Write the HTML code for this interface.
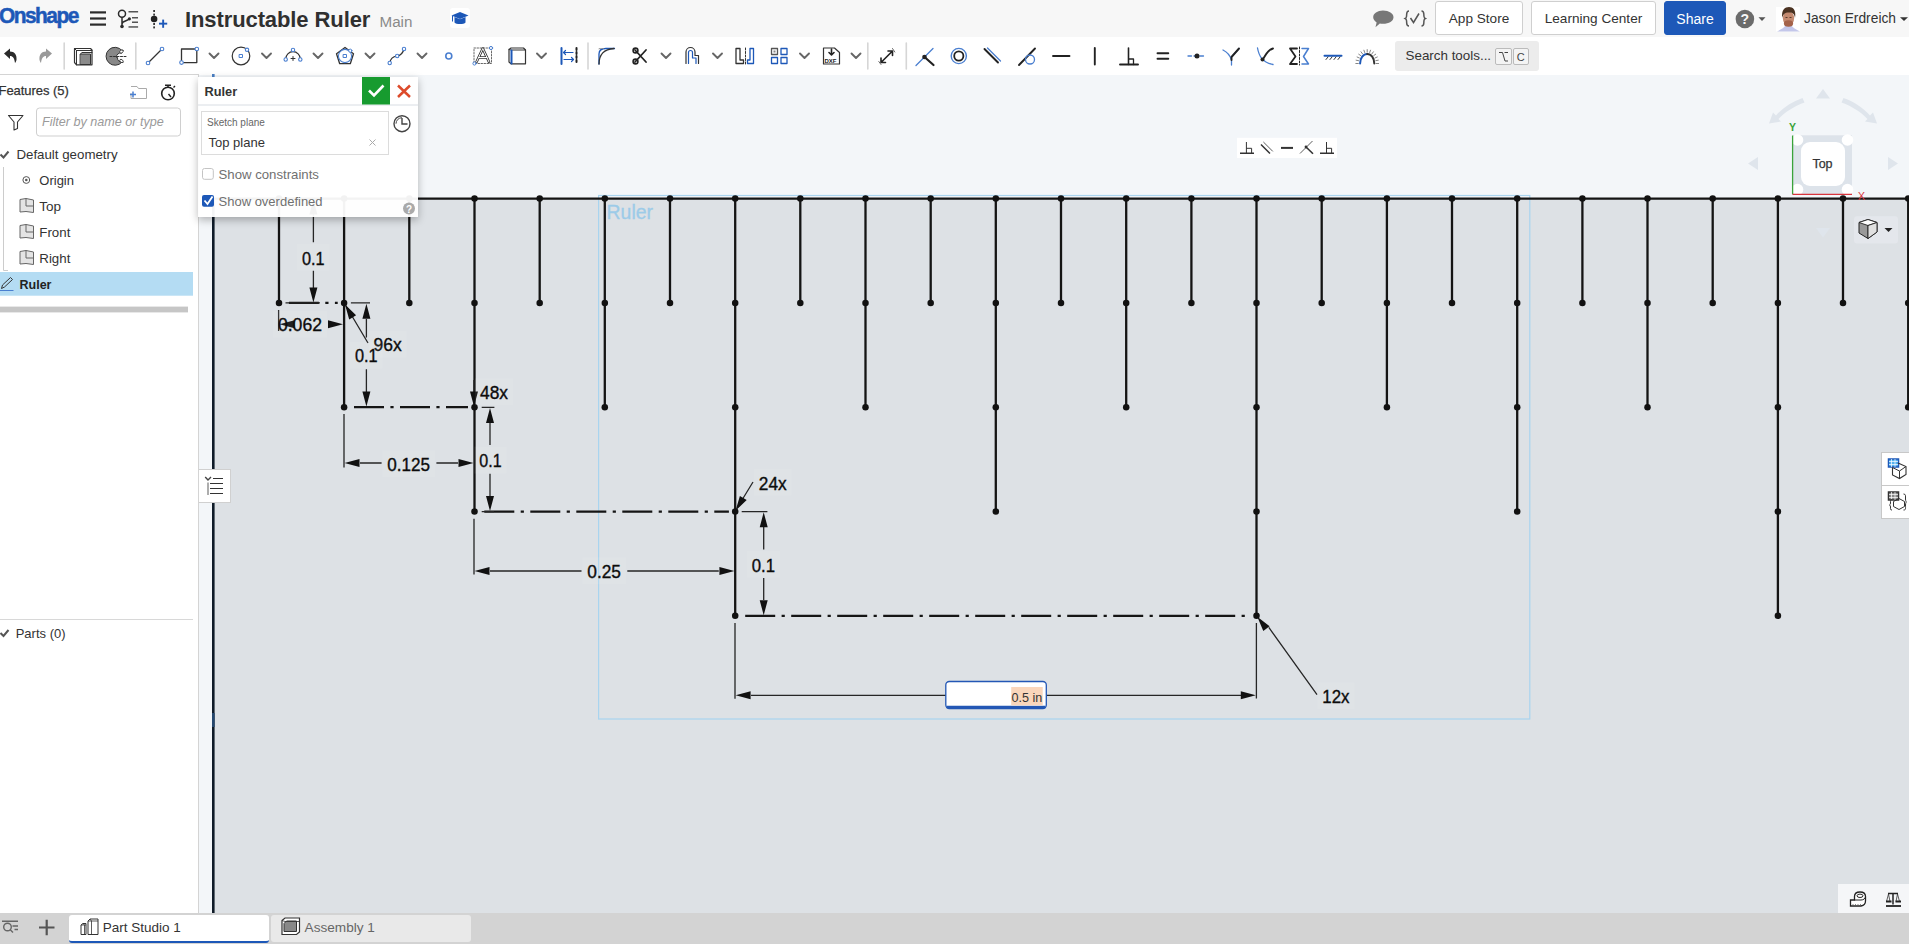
<!DOCTYPE html>
<html><head><meta charset="utf-8">
<style>
*{box-sizing:border-box;margin:0;padding:0}
html,body{width:1909px;height:944px;overflow:hidden;background:#f3f6f9;font-family:"Liberation Sans",sans-serif;color:#333}
.a{position:absolute}
.t{position:absolute;white-space:nowrap;line-height:1}
svg{position:absolute;overflow:visible}
.btn{position:absolute;border:1px solid #cfcfcf;border-radius:3px;background:#fff;font-size:13.6px;color:#333;text-align:center;line-height:34px}
</style></head><body>
<!-- top bar -->
<div class="a" style="left:0;top:0;width:1909px;height:37px;background:#f7f7f7"></div>
<div class="t" style="left:-1px;top:5px;font-size:22px;font-weight:bold;color:#1d58b8;letter-spacing:-1.6px;transform:scaleX(0.95);transform-origin:0 0;-webkit-text-stroke:0.5px #1d58b8">Onshape</div>
<svg style="left:0;top:0" width="480" height="37">
 <g fill="#2b2b2b"><rect x="90" y="11.3" width="16" height="2.2"/><rect x="90" y="17.4" width="16" height="2.2"/><rect x="90" y="23.5" width="16" height="2.2"/></g>
 <g stroke="#2b2b2b" fill="none" stroke-width="1.5"><circle cx="122" cy="13.8" r="3.5"/><path d="M122 17.3V26.5M122 24C122 21 127 21.5 129.4 18.8"/></g>
 <circle cx="122" cy="26.5" r="1.8" fill="#2b2b2b"/><circle cx="129.4" cy="18.8" r="1.6" fill="#2b2b2b"/>
 <g fill="#555"><rect x="128.5" y="11" width="9.6" height="1.5"/><rect x="132" y="17" width="6" height="1.5"/><rect x="132" y="21.5" width="6" height="1.5"/><rect x="128.5" y="26.2" width="9.6" height="1.5"/></g>
 <g fill="#222"><rect x="153.3" y="10" width="1.6" height="2"/><rect x="153.3" y="13.6" width="1.6" height="2"/><circle cx="154.1" cy="19" r="3.3"/><rect x="153.3" y="23" width="1.6" height="2"/><rect x="153.3" y="26.4" width="1.6" height="2"/></g>
 <g fill="#1d58b8"><rect x="159" y="22.7" width="8.2" height="1.9"/><rect x="162.2" y="19.6" width="1.9" height="8.2"/></g>
 <rect x="450" y="8" width="20" height="20" rx="3" fill="#fff"/>
 <path d="M451.5 15.5L460 12L468.5 15.5L460 19Z" fill="#1d58b8"/><path d="M454.5 17V22.5C456 24.5 464 24.5 465.5 22.5V17L460 19.3Z" fill="#1d58b8"/><path d="M452.5 16V21.5" stroke="#1d58b8" stroke-width="1"/>
</svg>
<div class="t" style="left:185px;top:8.5px;font-size:22px;font-weight:bold;color:#303030;letter-spacing:-0.1px">Instructable Ruler</div>
<div class="t" style="left:379.5px;top:13.5px;font-size:15.2px;color:#8a8a8a">Main</div>
<!-- right top -->
<svg style="left:1360px;top:0" width="80" height="37">
 <path d="M1383 10.5C1389 10.5 1393.5 13.5 1393.5 17.2C1393.5 21 1389 23.8 1383 23.8C1381.8 23.8 1380.8 23.7 1379.8 23.4L1375.5 27.3L1376.6 22.4C1374.5 21.1 1373.2 19.2 1373.2 17.2C1373.2 13.5 1377.5 10.5 1383 10.5Z" transform="translate(-1360 0)" fill="#777"/>
 <g transform="translate(-1360 0)" fill="none" stroke="#555" stroke-width="1.5"><path d="M1409 11C1406 11 1407 13 1406.5 16.5C1406.3 18 1405.2 18.5 1405.2 18.5C1405.2 18.5 1406.3 19 1406.5 20.5C1407 24 1406 26 1409 26"/><path d="M1421.5 11C1424.5 11 1423.5 13 1424 16.5C1424.2 18 1425.3 18.5 1425.3 18.5C1425.3 18.5 1424.2 19 1424 20.5C1423.5 24 1424.5 26 1421.5 26"/><path d="M1410.5 18L1413.5 22.5L1419 13.5"/></g>
</svg>
<div class="btn" style="left:1435px;top:1px;width:88px;height:34px">App Store</div>
<div class="btn" style="left:1531px;top:1px;width:125px;height:34px">Learning Center</div>
<div class="btn" style="left:1664px;top:1px;width:62px;height:34px;background:#1d58b8;border-color:#1d58b8;color:#fff;font-size:14px">Share</div>
<svg style="left:1730px;top:0" width="179" height="37">
 <circle cx="14.9" cy="19" r="9.3" fill="#6b6b6b"/>
 <text x="14.9" y="24" font-family="Liberation Sans" font-weight="bold" font-size="14" fill="#f7f7f7" text-anchor="middle">?</text>
 <path d="M28.5 17.3H35.5L32 21Z" fill="#555"/>
 <rect x="46" y="7" width="24" height="24.5" fill="#fff"/>
 <path d="M47 31.5C51 29.5 54.5 27.5 55.5 25.5H61.5C62.5 27.5 66 29.5 70 31.5Z" fill="#c4c7ea"/>
 <ellipse cx="58.5" cy="18.5" rx="5.6" ry="7.3" fill="#c48a70"/>
 <ellipse cx="58.5" cy="23.5" rx="4.6" ry="3.2" fill="#a4624a"/>
 <path d="M52.3 18C51 10 55 7 59 7C63 7 66.5 10 65 18C64.5 14.5 63.5 12.5 59 12.5C54.5 12.5 53 14.5 52.3 18Z" fill="#4b3322"/>
 <path d="M55.5 17.5H57.5M59.5 17.5H61.5" stroke="#5a3a2a" stroke-width="1"/>
 <path d="M170 17.3H178L174 21Z" fill="#333"/>
</svg>
<div class="t" style="left:1804px;top:11.5px;font-size:13.8px;color:#333">Jason Erdreich</div>
<!-- toolbar -->
<div class="a" style="left:0;top:37px;width:1909px;height:38px;background:#fff"></div>
<svg style="left:0;top:0" width="1909" height="75">
<g fill="none" stroke-linecap="round" stroke-linejoin="round">
 <!-- undo/redo -->
 <path d="M4 53.5L10 48.5V51.5C14.5 51.5 17 54.5 16.5 60C16 61.5 15.5 62.5 15 63C14.5 58.5 13 56 10 56V59Z" fill="#2b2b2b" stroke="none"/>
 <path d="M52 53.5L46 48.5V51.5C41.5 51.5 39 54.5 39.5 60C40 61.5 40.5 62.5 41 63C41.5 58.5 43 56 46 56V59Z" fill="#9a9a9a" stroke="none"/>
 <path d="M64.2 43V69M135.8 43V69M588 43V69M867.8 43V69M906.3 43V69" stroke="#d6d6d6" stroke-width="1.6"/>
 <!-- cube -->
 <path d="M74.5 48.5H90.5L92 50V64.8H76.5L74.5 62.5Z" stroke="#333" stroke-width="1.2" fill="#fff"/>
 <path d="M74.5 48.5L76.5 50.5H92M76.5 50.5V64.8" stroke="#333" stroke-width="1"/>
 <path d="M80.5 54H90.5V64.5H80.5Z" fill="#8a8a8a" stroke="#333" stroke-width="1"/>
 <path d="M80.5 54L82 52.5H92" stroke="#333" stroke-width="1"/>
 <!-- C -->
 <path d="M122 50.5A9 9 0 1 0 122 62A4 4 0 0 1 117.5 57.5H116.5A4 4 0 0 1 121.5 53Z" fill="#888" stroke="#333" stroke-width="1"/>
 <ellipse cx="121.5" cy="51.5" rx="2" ry="1.4" fill="#fff" stroke="#333" stroke-width=".8" transform="rotate(-40 121.5 51.5)"/>
 <ellipse cx="121.5" cy="61" rx="2" ry="1.4" fill="#fff" stroke="#333" stroke-width=".8" transform="rotate(40 121.5 61)"/>
 <path d="M110 56.5H126" stroke="#333" stroke-width="1" stroke-dasharray="2 1.5"/>
 <!-- line -->
 <path d="M148.5 62.5L161.5 49.5" stroke="#333" stroke-width="1.3"/>
 <circle cx="148" cy="63" r="1.8" stroke="#4a7fd0" stroke-width="1.1" fill="#fff"/><circle cx="162" cy="49" r="1.8" stroke="#4a7fd0" stroke-width="1.1" fill="#fff"/>
 <!-- rect -->
 <rect x="181.5" y="49" width="15.3" height="13.6" stroke="#333" stroke-width="1.3"/>
 <circle cx="196.8" cy="49" r="1.8" stroke="#4a7fd0" stroke-width="1.1" fill="#fff"/><circle cx="181.5" cy="62.6" r="1.8" stroke="#4a7fd0" stroke-width="1.1" fill="#fff"/>
 <!-- carets -->
 <g stroke="#666" stroke-width="1.9"><path d="M209.5 53.5L214 58L218.5 53.5"/><path d="M262 53.5L266.5 58L271 53.5"/><path d="M313.5 53.5L318 58L322.5 53.5"/><path d="M365.5 53.5L370 58L374.5 53.5"/><path d="M417.5 53.5L422 58L426.5 53.5"/><path d="M537 53.5L541.5 58L546 53.5"/><path d="M661.5 53.5L666 58L670.5 53.5"/><path d="M713 53.5L717.5 58L722 53.5"/><path d="M800 53.5L804.5 58L809 53.5"/><path d="M851.5 53.5L856 58L860.5 53.5"/></g>
 <!-- circle -->
 <circle cx="241" cy="56" r="8.8" stroke="#333" stroke-width="1.2"/>
 <rect x="239.5" y="54.5" width="3" height="3" stroke="#4a7fd0" stroke-width="1"/>
 <circle cx="247" cy="49.8" r="1.7" stroke="#4a7fd0" stroke-width="1.1" fill="#fff"/>
 <!-- arc -->
 <path d="M285.7 59A7.3 7.3 0 0 1 300.3 59" stroke="#333" stroke-width="1.2"/>
 <circle cx="293" cy="50" r="1.7" stroke="#4a7fd0" stroke-width="1.1" fill="#fff"/><circle cx="285.7" cy="59.5" r="1.7" stroke="#4a7fd0" stroke-width="1.1" fill="#fff"/><circle cx="300.3" cy="59.5" r="1.7" stroke="#4a7fd0" stroke-width="1.1" fill="#fff"/>
 <path d="M291 58.5H295M293 56.5V60.5" stroke="#333" stroke-width="1"/>
 <!-- polygon -->
 <path d="M345 47.5L353.5 53.7L350.3 63.7H339.7L336.5 53.7Z" stroke="#333" stroke-width="1.3"/>
 <circle cx="345" cy="56" r="6.6" stroke="#4a7fd0" stroke-width="1.1"/>
 <rect x="343.5" y="54.5" width="3" height="3" stroke="#4a7fd0" stroke-width="1"/>
 <circle cx="350.3" cy="50.7" r="1.6" stroke="#4a7fd0" stroke-width="1" fill="#fff"/>
 <!-- spline -->
 <path d="M389.7 63C390.5 58 393.5 56.5 397 56C401 55.5 403 53 404 49" stroke="#333" stroke-width="1.2"/>
 <circle cx="389.7" cy="63" r="1.7" stroke="#4a7fd0" stroke-width="1.1" fill="#fff"/><circle cx="397.2" cy="56" r="1.7" stroke="#4a7fd0" stroke-width="1.1" fill="#fff"/><circle cx="404" cy="49" r="1.7" stroke="#4a7fd0" stroke-width="1.1" fill="#fff"/>
 <!-- point -->
 <circle cx="448.8" cy="56" r="3" stroke="#4a7fd0" stroke-width="1.6"/>
 <!-- text -->
 <rect x="474" y="48" width="17.5" height="15.5" stroke="#555" stroke-width=".9" stroke-dasharray="1.5 1.5"/>
 <path d="M476.5 62L482.8 48.5L489 62M478.5 57.5H487" stroke="#333" stroke-width="2.6"/>
 <path d="M476.5 62L482.8 48.5L489 62M478.5 57.5H487" stroke="#fff" stroke-width="1"/>
 <circle cx="491" cy="48" r="1.6" stroke="#4a7fd0" stroke-width="1" fill="#fff"/><circle cx="474.5" cy="63.5" r="1.6" stroke="#4a7fd0" stroke-width="1" fill="#fff"/>
 <!-- 3d box -->
 <path d="M509 49.5L511 48H523.5L525.5 50V63.8H511L509 62Z" stroke="#333" stroke-width="1.2"/>
 <path d="M509 49.5L511 50H525.5" stroke="#333" stroke-width="1"/>
 <path d="M511.5 50.5V63.5" stroke="#1d58b8" stroke-width="2"/>
 <!-- dim icon -->
 <path d="M561.5 48V64" stroke="#1d58b8" stroke-width="2"/>
 <path d="M576.5 48V64" stroke="#222" stroke-width="2" stroke-dasharray="2 2"/>
 <path d="M564 52.5H573M565.5 50.5L563.5 52.5L565.5 54.5M564 59.5H573M571.5 57.5L573.5 59.5L571.5 61.5" stroke="#1d58b8" stroke-width="1.2"/>
 <!-- fillet -->
 <path d="M599 64V54C599 50.5 602 48.5 606 48.5H614.5" stroke="#1d58b8" stroke-width="1.3"/>
 <path d="M599 49V48.5H604" stroke="#888" stroke-width=".8" stroke-dasharray="1 1"/>
 <path d="M599 64C599 55 604 49 614 48.5" stroke="#333" stroke-width="1.3"/>
 <!-- scissors -->
 <path d="M635 50L646 62M646 50L635 62" stroke="#222" stroke-width="1.8"/>
 <circle cx="635.5" cy="50.5" r="2.4" stroke="#222" stroke-width="1.6"/><circle cx="635.5" cy="61.5" r="2.4" stroke="#222" stroke-width="1.6"/>
 <!-- offset -->
 <path d="M686 63.5V52A4.5 4.5 0 0 1 695 52V55.5H698.5V63.5" stroke="#333" stroke-width="1.2"/>
 <path d="M688.5 63.5V52.5A2 2 0 0 1 692.5 52.5V58H696V63.5" stroke="#1d58b8" stroke-width="1.2"/>
 <!-- mirror -->
 <path d="M736 48.5H740V60H743.5V63.5H736Z" stroke="#333" stroke-width="1.3"/>
 <path d="M745.5 48V64" stroke="#333" stroke-width="1" stroke-dasharray="2 1.5"/>
 <path d="M753.5 48.5V63.5H747.5V60H750V48.5Z" stroke="#1d58b8" stroke-width="1.3"/>
 <!-- pattern -->
 <rect x="771.5" y="48.5" width="6" height="6" stroke="#555" stroke-width="1.3"/><rect x="773.5" y="50.5" width="2" height="2" fill="#888" stroke="none"/>
 <rect x="781" y="48.5" width="6" height="6" stroke="#1d58b8" stroke-width="1.3"/><rect x="771.5" y="57.5" width="6" height="6" stroke="#1d58b8" stroke-width="1.3"/><rect x="781" y="57.5" width="6" height="6" stroke="#1d58b8" stroke-width="1.3"/>
 <!-- dxf -->
 <path d="M823.5 48H834.5L839.5 52.5V64H823.5Z" stroke="#333" stroke-width="1.2"/>
 <path d="M831.5 49V54.5M829 52.5L831.5 55L834 52.5" stroke="#222" stroke-width="1.6"/>
 <text x="824.5" y="62.8" font-family="Liberation Sans" font-weight="bold" font-size="6" fill="#222" stroke="none">DXF</text>
 <!-- dimension -->
 <path d="M881 62.5L892.5 51M881 58V62.5H885.5M892.5 55.5V51H888" stroke="#222" stroke-width="1.6"/>
 <path d="M878.8 61.5L881 64.5M894.8 52L892.5 48.5" stroke="#444" stroke-width=".8"/>
 <!-- coincident -->
 <path d="M916 65.5L933 48.5" stroke="#4a7fd0" stroke-width="1.3"/>
 <path d="M924.5 57L933.5 65" stroke="#222" stroke-width="2.2"/><circle cx="924.5" cy="57" r="2.3" fill="#222" stroke="none"/>
 <!-- concentric -->
 <circle cx="958.8" cy="56" r="7.6" stroke="#4a7fd0" stroke-width="1.4"/><circle cx="958.8" cy="56" r="4.6" stroke="#222" stroke-width="1.8"/>
 <!-- parallel -->
 <path d="M984.5 49L998 62.5" stroke="#222" stroke-width="1.9"/><path d="M987.5 48L1000.5 61" stroke="#4a7fd0" stroke-width="1.3"/>
 <!-- tangent -->
 <path d="M1019 65L1035 48.5" stroke="#222" stroke-width="1.9"/><circle cx="1030" cy="59.5" r="4.5" stroke="#4a7fd0" stroke-width="1.3"/>
 <!-- horiz vert -->
 <path d="M1053 56H1069.5" stroke="#222" stroke-width="1.9"/>
 <path d="M1094.8 48V64.5" stroke="#222" stroke-width="1.9"/>
 <!-- perpendicular -->
 <path d="M1120 64.5H1138" stroke="#222" stroke-width="1.9"/><path d="M1128.5 48V64.5" stroke="#222" stroke-width="1.6"/><path d="M1129 59H1133.5V64.5" stroke="#222" stroke-width="1.3"/>
 <!-- equal -->
 <path d="M1157.5 53.3H1168.3M1157.5 58.8H1168.3" stroke="#222" stroke-width="1.9"/>
 <!-- midpoint -->
 <path d="M1188 56H1206" stroke="#4a7fd0" stroke-width="1.3" stroke-dasharray="3.5 2.5"/><circle cx="1197" cy="56" r="2.5" fill="#222" stroke="none"/>
 <!-- normal -->
 <path d="M1223 50C1227 52 1230 55 1231.5 60M1231.5 60V65M1231.5 57L1239 48.5" stroke="#4a7fd0" stroke-width="1.3"/>
 <path d="M1231.5 57L1239 48.5M1231.5 57V60" stroke="#222" stroke-width="1.9"/>
 <!-- curvature -->
 <path d="M1257.5 48C1259 56 1262 62 1273 64.5" stroke="#4a7fd0" stroke-width="1.3"/><path d="M1262.5 59.5C1265 57 1267 50 1273 48.5" stroke="#222" stroke-width="1.9"/><circle cx="1262.5" cy="59.5" r="2" fill="#222" stroke="none"/>
 <!-- symmetric -->
 <path d="M1297 48.5H1290L1295.5 56.5L1290 64H1297" stroke="#222" stroke-width="1.8"/>
 <path d="M1299.5 47V65" stroke="#222" stroke-width="1" stroke-dasharray="2 1.5"/>
 <path d="M1302 48.5H1308.5L1303.5 56.5L1308.5 64H1302" stroke="#4a7fd0" stroke-width="1.5"/>
 <!-- fix -->
 <path d="M1324.5 55.8H1341.5" stroke="#1d58b8" stroke-width="2"/>
 <path d="M1326 59.5L1328 57M1330 59.5L1332 57M1334 59.5L1336 57M1338 59.5L1340 57" stroke="#333" stroke-width="1"/>
 <!-- pierce -->
 <path d="M1358.3 63.5L1355.8 63.5 M1358.6 60.7L1356.1 60.2 M1359.4 58.0L1357.1 57.0 M1360.7 55.6L1358.7 54.2 M1362.5 53.8L1361.0 51.8 M1364.7 52.5L1363.9 50.2 M1367.2 52.1L1367.2 49.6 M1369.7 52.5L1370.5 50.2 M1371.9 53.8L1373.4 51.8 M1373.7 55.6L1375.7 54.2 M1375.0 58.0L1377.3 57.0 M1375.8 60.7L1378.3 60.2 M1376.1 63.5L1378.6 63.5" stroke="#777" stroke-width=".9"/>
 <path d="M1360.1 63.5A7.1 9.6 0 0 1 1367.2 53.9" stroke="#1d58b8" stroke-width="2"/>
 <path d="M1367.2 53.9A7.1 9.6 0 0 1 1374.3 63.5" stroke="#333" stroke-width="2"/>
</g>
</svg>
<div class="a" style="left:1395px;top:41px;width:144px;height:30px;background:#ececec;border-radius:3px"></div>
<div class="t" style="left:1405.5px;top:49px;font-size:13.4px;color:#333">Search tools...</div>
<div class="a" style="left:1495px;top:48px;width:16.5px;height:17px;border:1px solid #bbb;border-radius:2px;background:#f4f4f4"></div>
<div class="a" style="left:1512.5px;top:48px;width:16.5px;height:17px;border:1px solid #bbb;border-radius:2px;background:#f4f4f4"></div>
<svg style="left:0;top:0" width="1909" height="75"><path d="M1499 52.5H1502.5L1505 61H1508M1504.5 52.5H1508" stroke="#444" stroke-width="1" fill="none"/>
<text x="1520.8" y="61" font-family="Liberation Sans" font-size="11" fill="#444" text-anchor="middle">C</text></svg>
<svg style="left:0;top:0" width="1909" height="944">
<rect x="199" y="75" width="1710" height="838" fill="#f3f6f9"/>
<rect x="213.8" y="198.6" width="1695.2" height="715.4" fill="#dde1e5"/>
<rect x="598.6" y="195.5" width="931.2" height="523.5" fill="none" stroke="#a9d4ef" stroke-width="1.2"/>
<path d="M288.9 302.9H337.7" stroke="#151515" stroke-width="2.2" stroke-dasharray="30 6.4 3.2 6.4" fill="none"/>
<path d="M354.0 407.2H468.0" stroke="#151515" stroke-width="2.2" stroke-dasharray="30 6.4 3.2 6.4" fill="none"/>
<path d="M484.3 511.6H728.9" stroke="#151515" stroke-width="2.2" stroke-dasharray="30 6.4 3.2 6.4" fill="none"/>
<path d="M745.2 615.8H1250.3" stroke="#151515" stroke-width="2.2" stroke-dasharray="30 6.4 3.2 6.4" fill="none"/>
<path d="M213.8 198.6H1909 M279.0 198.6V302.9 M344.1 198.6V407.2 M409.3 198.6V302.9 M474.5 198.6V511.6 M539.7 198.6V302.9 M604.8 198.6V407.2 M670.0 198.6V302.9 M735.2 198.6V615.8 M800.3 198.6V302.9 M865.5 198.6V407.2 M930.7 198.6V302.9 M995.8 198.6V511.6 M1061.0 198.6V302.9 M1126.2 198.6V407.2 M1191.4 198.6V302.9 M1256.5 198.6V615.8 M1321.7 198.6V302.9 M1386.9 198.6V407.2 M1452.0 198.6V302.9 M1517.2 198.6V511.6 M1582.4 198.6V302.9 M1647.5 198.6V407.2 M1712.7 198.6V302.9 M1777.9 198.6V615.8 M1843.0 198.6V302.9 M1908.2 198.6V407.2" stroke="#141414" stroke-width="2.3" fill="none"/>
<g fill="#111"><circle cx="279.0" cy="198.6" r="3.25"/><circle cx="279.0" cy="302.9" r="3.25"/><circle cx="344.1" cy="198.6" r="3.25"/><circle cx="344.1" cy="302.9" r="3.25"/><circle cx="344.1" cy="407.2" r="3.25"/><circle cx="409.3" cy="198.6" r="3.25"/><circle cx="409.3" cy="302.9" r="3.25"/><circle cx="474.5" cy="198.6" r="3.25"/><circle cx="474.5" cy="302.9" r="3.25"/><circle cx="474.5" cy="407.2" r="3.25"/><circle cx="474.5" cy="511.6" r="3.25"/><circle cx="539.7" cy="198.6" r="3.25"/><circle cx="539.7" cy="302.9" r="3.25"/><circle cx="604.8" cy="198.6" r="3.25"/><circle cx="604.8" cy="302.9" r="3.25"/><circle cx="604.8" cy="407.2" r="3.25"/><circle cx="670.0" cy="198.6" r="3.25"/><circle cx="670.0" cy="302.9" r="3.25"/><circle cx="735.2" cy="198.6" r="3.25"/><circle cx="735.2" cy="302.9" r="3.25"/><circle cx="735.2" cy="407.2" r="3.25"/><circle cx="735.2" cy="511.6" r="3.25"/><circle cx="735.2" cy="615.8" r="3.25"/><circle cx="800.3" cy="198.6" r="3.25"/><circle cx="800.3" cy="302.9" r="3.25"/><circle cx="865.5" cy="198.6" r="3.25"/><circle cx="865.5" cy="302.9" r="3.25"/><circle cx="865.5" cy="407.2" r="3.25"/><circle cx="930.7" cy="198.6" r="3.25"/><circle cx="930.7" cy="302.9" r="3.25"/><circle cx="995.8" cy="198.6" r="3.25"/><circle cx="995.8" cy="302.9" r="3.25"/><circle cx="995.8" cy="407.2" r="3.25"/><circle cx="995.8" cy="511.6" r="3.25"/><circle cx="1061.0" cy="198.6" r="3.25"/><circle cx="1061.0" cy="302.9" r="3.25"/><circle cx="1126.2" cy="198.6" r="3.25"/><circle cx="1126.2" cy="302.9" r="3.25"/><circle cx="1126.2" cy="407.2" r="3.25"/><circle cx="1191.4" cy="198.6" r="3.25"/><circle cx="1191.4" cy="302.9" r="3.25"/><circle cx="1256.5" cy="198.6" r="3.25"/><circle cx="1256.5" cy="302.9" r="3.25"/><circle cx="1256.5" cy="407.2" r="3.25"/><circle cx="1256.5" cy="511.6" r="3.25"/><circle cx="1256.5" cy="615.8" r="3.25"/><circle cx="1321.7" cy="198.6" r="3.25"/><circle cx="1321.7" cy="302.9" r="3.25"/><circle cx="1386.9" cy="198.6" r="3.25"/><circle cx="1386.9" cy="302.9" r="3.25"/><circle cx="1386.9" cy="407.2" r="3.25"/><circle cx="1452.0" cy="198.6" r="3.25"/><circle cx="1452.0" cy="302.9" r="3.25"/><circle cx="1517.2" cy="198.6" r="3.25"/><circle cx="1517.2" cy="302.9" r="3.25"/><circle cx="1517.2" cy="407.2" r="3.25"/><circle cx="1517.2" cy="511.6" r="3.25"/><circle cx="1582.4" cy="198.6" r="3.25"/><circle cx="1582.4" cy="302.9" r="3.25"/><circle cx="1647.5" cy="198.6" r="3.25"/><circle cx="1647.5" cy="302.9" r="3.25"/><circle cx="1647.5" cy="407.2" r="3.25"/><circle cx="1712.7" cy="198.6" r="3.25"/><circle cx="1712.7" cy="302.9" r="3.25"/><circle cx="1777.9" cy="198.6" r="3.25"/><circle cx="1777.9" cy="302.9" r="3.25"/><circle cx="1777.9" cy="407.2" r="3.25"/><circle cx="1777.9" cy="511.6" r="3.25"/><circle cx="1777.9" cy="615.8" r="3.25"/><circle cx="1843.0" cy="198.6" r="3.25"/><circle cx="1843.0" cy="302.9" r="3.25"/><circle cx="1908.2" cy="198.6" r="3.25"/><circle cx="1908.2" cy="302.9" r="3.25"/><circle cx="1908.2" cy="407.2" r="3.25"/></g>
<path d="M213.3 200V913" stroke="#0f1b28" stroke-width="2.6"/>
<rect x="212" y="74" width="2.6" height="3.2" fill="#4a7fc4"/>
<path d="M213.3 713V727" stroke="#24476e" stroke-width="2.6"/>
<svg style="left:0;top:0" width="1909" height="944" font-family="Liberation Sans">
<path d="M313.4 214.0L313.4 242.2 M313.4 270.8L313.4 288.0 M285.5 302.9L320.0 302.9 M278.6 310.0L278.6 331.0 M345.4 305.0L368.0 343.0 M350.9 302.9L370.0 302.9 M366.4 318.9L366.4 337.5 M366.4 369.2L366.4 392.0 M474.0 380.0L474.0 392.0 M344.0 414.0L344.0 467.4 M360.0 463.0L381.6 463.0 M436.4 463.0L458.0 463.0 M481.7 407.3L494.4 407.3 M490.0 423.0L490.0 445.0 M490.0 473.7L490.0 496.0 M481.7 511.6L494.0 511.6 M753.0 482.0L742.0 500.0 M741.7 511.6L767.4 511.6 M763.7 527.0L763.7 549.6 M763.7 578.0L763.7 600.0 M474.0 518.7L474.0 574.5 M490.0 571.0L581.5 571.0 M627.3 571.0L718.8 571.0 M735.0 623.0L735.0 698.8 M1256.4 623.0L1256.4 698.6 M751.0 695.3L946.0 695.3 M1046.0 695.3L1241.0 695.3 M1317.0 694.7L1268.8 627.4" stroke="#262626" stroke-width="1.3" fill="none"/>
<path d="M313.4 302.6L309.4 287.6L317.4 287.6Z M313.4 199.5L317.4 214.5L309.4 214.5Z M343.0 324.2L328.0 328.2L328.0 320.2Z M279.5 324.2L294.5 320.2L294.5 328.2Z M345.0 304.5L356.1 315.3L349.2 319.4Z M366.4 303.8L370.4 318.8L362.4 318.8Z M366.4 406.6L362.4 391.6L370.4 391.6Z M474.0 406.5L470.0 391.5L478.0 391.5Z M344.5 463.0L359.5 459.0L359.5 467.0Z M473.5 463.0L458.5 467.0L458.5 459.0Z M490.0 408.0L494.0 423.0L486.0 423.0Z M490.0 511.0L486.0 496.0L494.0 496.0Z M735.5 510.8L739.9 495.9L746.7 500.1Z M763.7 512.3L767.7 527.3L759.7 527.3Z M763.7 615.3L759.7 600.3L767.7 600.3Z M474.5 571.0L489.5 567.0L489.5 575.0Z M734.4 571.0L719.4 575.0L719.4 567.0Z M735.6 695.3L750.6 691.3L750.6 699.3Z M1255.8 695.3L1240.8 699.3L1240.8 691.3Z M1257.3 616.7L1269.6 626.2L1263.3 631.0Z" fill="#111"/>
<g fill="#0c0c0c" stroke="#0c0c0c" stroke-width="0.35"><rect x="296.9" y="243.7" width="32.6" height="27" fill="#ffffff" fill-opacity="0.07" stroke="none"/><text x="301.9" y="264.5" textLength="22.6" lengthAdjust="spacingAndGlyphs" font-size="18">0.1</text><rect x="272.9" y="310.6" width="54.1" height="27" fill="#ffffff" fill-opacity="0.07" stroke="none"/><text x="277.9" y="331.4" textLength="44.1" lengthAdjust="spacingAndGlyphs" font-size="18">0.062</text><rect x="368.6" y="330.6" width="38.2" height="27" fill="#ffffff" fill-opacity="0.07" stroke="none"/><text x="373.6" y="351.4" textLength="28.2" lengthAdjust="spacingAndGlyphs" font-size="18">96x</text><rect x="350.0" y="341.6" width="32.7" height="27" fill="#ffffff" fill-opacity="0.07" stroke="none"/><text x="355.0" y="362.4" textLength="22.7" lengthAdjust="spacingAndGlyphs" font-size="18">0.1</text><rect x="475.0" y="378.3" width="38.0" height="27" fill="#ffffff" fill-opacity="0.07" stroke="none"/><text x="480.0" y="399.1" textLength="28.0" lengthAdjust="spacingAndGlyphs" font-size="18">48x</text><rect x="382.2" y="450.2" width="52.8" height="27" fill="#ffffff" fill-opacity="0.07" stroke="none"/><text x="387.2" y="471.0" textLength="42.8" lengthAdjust="spacingAndGlyphs" font-size="18">0.125</text><rect x="474.3" y="446.6" width="32.3" height="27" fill="#ffffff" fill-opacity="0.07" stroke="none"/><text x="479.3" y="467.4" textLength="22.3" lengthAdjust="spacingAndGlyphs" font-size="18">0.1</text><rect x="753.8" y="468.7" width="37.8" height="27" fill="#ffffff" fill-opacity="0.07" stroke="none"/><text x="758.8" y="489.5" textLength="27.8" lengthAdjust="spacingAndGlyphs" font-size="18">24x</text><rect x="746.7" y="550.7" width="33.3" height="27" fill="#ffffff" fill-opacity="0.07" stroke="none"/><text x="751.7" y="571.5" textLength="23.3" lengthAdjust="spacingAndGlyphs" font-size="18">0.1</text><rect x="582.3" y="557.3" width="43.7" height="27" fill="#ffffff" fill-opacity="0.07" stroke="none"/><text x="587.3" y="578.1" textLength="33.7" lengthAdjust="spacingAndGlyphs" font-size="18">0.25</text><rect x="1317.3" y="682.2" width="37.2" height="27" fill="#ffffff" fill-opacity="0.07" stroke="none"/><text x="1322.3" y="703.0" textLength="27.2" lengthAdjust="spacingAndGlyphs" font-size="18">12x</text></g>
<text x="606.6" y="218.6" font-size="19.6" fill="#9ccbe8" stroke="#9ccbe8" stroke-width="0.3" textLength="46.4" lengthAdjust="spacingAndGlyphs">Ruler</text>
</svg>
<!-- collapse tab -->
<div class="a" style="left:198px;top:469px;width:33px;height:34px;background:#fff;border:1px solid #d0d0d0;border-left:none"></div>
<svg style="left:0;top:0" width="1909" height="944">
 <g fill="none" stroke-linecap="butt">
 <path d="M205.2 477L208 480L211 477" stroke="#444" stroke-width="1.4"/>
 <path d="M213 478.5H223M210 483.5H223M210 488.5H223M210 493.5H223" stroke="#333" stroke-width="1.1"/>
 <path d="M208 482.5V495" stroke="#999" stroke-width="1.6"/>
 </g>
 <!-- constraint bar -->
 <rect x="1237" y="137.8" width="100" height="20.2" fill="#fff"/>
 <g fill="none" stroke="#333">
  <path d="M1240 153.3H1254M1320 153.3H1334" stroke-width="1.6"/>
  <path d="M1246.4 142V153.3M1246.4 148.3H1251.6V153.3M1326.5 142V153.3M1326.5 148.3H1331.6V153.3" stroke-width="1"/>
  <path d="M1261 144.5L1270 153.5" stroke-width="1.5"/><path d="M1263.4 142L1272.8 151.4" stroke-width=".8"/>
  <path d="M1281 147.9H1293" stroke-width="2"/>
  <path d="M1300 153.5L1312.5 141" stroke-width=".8"/><path d="M1306 147L1313 153.8" stroke-width="1.6"/>
 </g>
 <circle cx="1306" cy="147" r="1.4" fill="#333"/>
 <!-- view cube -->
 <g fill="#dfe5ec">
  <path d="M1802.5 98C1791.5 102 1782.5 108 1776 115.5L1773 112.5L1769 123.5L1781 121.5L1778.5 119C1785 112 1793.5 106.5 1804.5 102.5Z"/>
  <path d="M1843.5 98C1854.5 102 1863.5 108 1870 115.5L1873 112.5L1877 123.5L1865 121.5L1867.5 119C1861 112 1852.5 106.5 1841.5 102.5Z"/>
  <path d="M1823 89L1830 98.5H1816Z"/>
  <path d="M1748 163.5L1758 157V170Z"/><path d="M1898 163.5L1888 157V170Z"/>
  <path d="M1823 237.5L1816 228H1830Z"/>
 </g>
 <rect x="1793" y="135.3" width="59" height="59" fill="#dde3ea"/>
 <rect x="1801" y="142" width="44" height="44" rx="9" fill="#fff"/>
 <g fill="#fff"><circle cx="1797.5" cy="140" r="5.8"/><circle cx="1847.5" cy="140" r="5.8"/><circle cx="1797.5" cy="189.5" r="5.8"/><circle cx="1847.5" cy="189.5" r="5.8"/></g>
 <path d="M1792.6 135.5V194.4" stroke="#3aa33a" stroke-width="1.3"/>
 <path d="M1792.6 194.4H1852" stroke="#d8343c" stroke-width="1.3"/>
 <text x="1792.5" y="131" font-family="Liberation Sans" font-weight="bold" font-size="10.5" fill="#3aa33a" text-anchor="middle">Y</text>
 <text x="1861.5" y="199.5" font-family="Liberation Sans" font-size="11" fill="#d8343c" text-anchor="middle">X</text>
 <text x="1822.5" y="167.5" font-family="Liberation Sans" font-size="12.5" fill="#333" stroke="#333" stroke-width="0.25" text-anchor="middle">Top</text>
 <!-- cube dropdown -->
 <rect x="1854" y="216.3" width="44" height="27.3" rx="3" fill="#e6e9ed" fill-opacity=".8"/>
 <path d="M1859 222.5L1868 219.5L1877 222.5V232L1868 238.5L1859 233Z" fill="#999" stroke="#222" stroke-width="1"/>
 <path d="M1859 222.5L1868 225.5L1877 222.5L1868 219.5Z" fill="#fff" stroke="#222" stroke-width=".9"/>
 <path d="M1868 225.5V238.5" stroke="#222" stroke-width=".9"/>
 <path d="M1868 225.5L1877 222.5V232L1868 238.5Z" fill="#e0e0e0" stroke="#222" stroke-width=".9"/>
 <path d="M1884.5 228H1892.5L1888.5 232Z" fill="#222"/>
 <!-- right side icon box -->
 <rect x="1881.5" y="452.5" width="30" height="66" fill="#fff" stroke="#c8c8c8" stroke-width="1"/>
 <path d="M1881.5 485.5H1909" stroke="#c8c8c8" stroke-width="1"/>
 <rect x="1888.5" y="459" width="10" height="8" fill="#56b3f0" stroke="#1d58b8" stroke-width="1.5"/>
 <path d="M1889 461.5H1898M1889 464.5H1898M1891.5 459V467M1895 459V467" stroke="#fff" stroke-width=".7"/>
 <path d="M1898 463L1906 466.5V474.5L1899.5 478.5L1892.5 475V467.5" fill="none" stroke="#333" stroke-width="1.1"/>
 <path d="M1892.5 467.5L1899.5 471V478.5M1899.5 471L1906 466.5" fill="none" stroke="#333" stroke-width="1"/>
 <rect x="1888.5" y="492" width="10" height="8" fill="#888" stroke="#333" stroke-width="1.5"/>
 <path d="M1889 494.5H1898M1889 497.5H1898M1891.5 492V500M1895 492V500" stroke="#fff" stroke-width=".7"/>
 <path d="M1893.5 501.5L1899 498.5L1904.5 501.5V506.5L1899 509.5L1893.5 506.5Z" fill="none" stroke="#333" stroke-width="1"/>
 <path d="M1892 499.5C1890 499.5 1890.5 501 1890.5 503C1890.5 504.5 1889.5 505 1889.5 505C1889.5 505 1890.5 505.5 1890.5 507C1890.5 509 1890 510 1892 510M1903.5 494C1906 494 1905.5 496 1905.5 499C1905.5 501.5 1906.5 502 1906.5 502C1906.5 502 1905.5 502.5 1905.5 505C1905.5 509 1906 510 1903.5 510" fill="none" stroke="#333" stroke-width="1"/>
 <!-- bottom right box -->
 <rect x="1838" y="884" width="71" height="29.5" fill="#f5f6f8"/>
 <path d="M1854.5 896.5C1854.5 893.5 1857 892 1860 892C1863 892 1865.5 893.5 1865.5 896.5V901C1865.5 903.5 1864 905.5 1861 906H1850.5V900H1854.5Z" fill="#fff" stroke="#222" stroke-width="1.3"/>
 <ellipse cx="1860" cy="895.8" rx="3" ry="1.7" fill="none" stroke="#222" stroke-width="1"/>
 <path d="M1854.5 900H1861C1863.5 900 1865.5 898.5 1865.5 896.5" fill="none" stroke="#222" stroke-width="1"/>
 <path d="M1853 905.2V904M1855.5 905.2V904M1858 905.2V904M1860.5 905.2V904" stroke="#555" stroke-width=".7"/>
 <path d="M1888 893.5H1898M1893 893.5V904.5" stroke="#222" stroke-width="1.5"/>
 <path d="M1888.5 894L1886.5 901.5M1888.5 894L1890 901.5M1897.5 894L1896 901.5M1897.5 894L1899.5 901.5" stroke="#333" stroke-width=".8"/>
 <path d="M1886 901.5H1891.5M1895.5 901.5H1901" stroke="#222" stroke-width="2"/>
 <path d="M1886 906H1901" stroke="#222" stroke-width="1.8"/>
 <!-- dimension input -->
 <rect x="945.8" y="681.5" width="100.5" height="27" rx="3.5" fill="#fff" stroke="#2357b5" stroke-width="1.3"/>
 <path d="M946.5 707H1045.5" stroke="#2357b5" stroke-width="2.4"/>
 <rect x="1011.2" y="687" width="31.5" height="18.4" fill="#fad6bb"/>
 <text x="1011.5" y="702.4" font-family="Liberation Sans" font-size="13" fill="#333" textLength="30.8" lengthAdjust="spacingAndGlyphs">0.5 in</text>
</svg>
<!-- left panel -->
<div class="a" style="left:0;top:74px;width:199px;height:839px;background:#fff;border-top:1px solid #d4d4d4;border-right:1px solid #d4d4d4"></div>
<div class="t" style="left:-1.5px;top:83.5px;font-size:13px;color:#333;letter-spacing:-0.05px;-webkit-text-stroke:0.25px #333">Features (5)</div>
<svg style="left:0;top:0" width="198" height="944">
 <g fill="none">
 <path d="M131 86.5H137L138.5 88.5H146.5V98.5H131V93" stroke="#aaa" stroke-width="1"/>
 <path d="M130 94.5H136M133 91.5V97.5" stroke="#4a7fd0" stroke-width="1.5"/>
 <circle cx="168" cy="93.5" r="6.3" stroke="#222" stroke-width="1.6"/>
 <path d="M165 85.3H171M168 85.3V87.2M173.5 87.5L175 86M168.5 94L171 97" stroke="#222" stroke-width="1.4"/>
 <path d="M8.5 115.5H23L17.5 122V128.5L14 130V122Z" stroke="#333" stroke-width="1.1" stroke-linejoin="round"/>
 <rect x="36.5" y="108" width="144" height="28" rx="3" stroke="#cfcfcf" stroke-width="1" fill="#fff"/>
 <path d="M0.5 154.5L3.5 157.5L8.5 151.5" stroke="#555" stroke-width="2"/>
 <path d="M3.5 167V270.5H8" stroke="#ccc" stroke-width="1"/>
 <circle cx="26.3" cy="180" r="3.4" stroke="#555" stroke-width="1"/><circle cx="26.3" cy="180" r="1.3" fill="#555"/>
 </g>
 <g fill="#e4e4e4" stroke="#666" stroke-width="1">
  <path d="M20 199.5L26 198.5L33.5 200V212.5L26 211.5L20 212Z"/>
  <path d="M20 225.5L26 224.5L33.5 226V238.5L26 237.5L20 238Z"/>
  <path d="M20 251.5L26 250.5L33.5 252V264.5L26 263.5L20 264Z"/>
 </g>
 <g fill="none" stroke="#666" stroke-width="1"><path d="M26 198.5V206H33.5M26 224.5V232H33.5M26 250.5V258H33.5"/></g>
 <rect x="0" y="272" width="193" height="23.7" fill="#b4dcf3"/>
 <path d="M1.5 288.5L2.5 285L10.5 277.5L12.5 279.5L4.5 287Z" fill="none" stroke="#333" stroke-width="1"/>
 <path d="M0 290.5H13.5" stroke="#4a7fd0" stroke-width="1"/>
 <rect x="0" y="306.6" width="188" height="5.8" fill="#c6c6c6"/>
 <path d="M0 619.5H193" stroke="#d8d8d8" stroke-width="1"/>
 <path d="M0.5 633L3.5 636L8.5 630" fill="none" stroke="#555" stroke-width="2"/>
</svg>
<div class="t" style="left:42px;top:115.5px;font-size:12.6px;color:#9a9a9a;font-style:italic">Filter by name or type</div>
<div class="t" style="left:16.4px;top:148px;font-size:13.3px;color:#333">Default geometry</div>
<div class="t" style="left:39.3px;top:174px;font-size:13px;color:#333">Origin</div>
<div class="t" style="left:39.3px;top:200px;font-size:13.5px;color:#333">Top</div>
<div class="t" style="left:39.3px;top:226px;font-size:13.3px;color:#333">Front</div>
<div class="t" style="left:39.3px;top:252px;font-size:13.3px;color:#333">Right</div>
<div class="t" style="left:19.5px;top:278.5px;font-size:12.5px;font-weight:bold;color:#222">Ruler</div>
<div class="t" style="left:15.7px;top:627px;font-size:13px;color:#333">Parts (0)</div>
<!-- dialog -->
<div class="a" style="left:198px;top:77px;width:220px;height:139.5px;background:rgba(255,255,255,0.95);box-shadow:0 3px 8px rgba(0,0,0,0.28)"></div>
<svg style="left:0;top:0" width="430" height="230">
 <path d="M198 105H418" stroke="#d8dde3" stroke-width="1"/>
 <rect x="362" y="77" width="28" height="27.5" fill="#179b2f"/>
 <path d="M369 90.5L374 95.5L383.5 85.5" fill="none" stroke="#fff" stroke-width="2.6"/>
 <path d="M398 85.5L410 97M410 85.5L398 97" stroke="#dd4b2b" stroke-width="2.5"/>
 <rect x="201.5" y="111.5" width="187" height="43" fill="none" stroke="#dcdcdc" stroke-width="1"/>
 <path d="M369.5 139.5L375.5 145.5M375.5 139.5L369.5 145.5" stroke="#aaa" stroke-width="1"/>
 <circle cx="402" cy="123.7" r="8" fill="none" stroke="#444" stroke-width="1.4"/>
 <path d="M402 118V124H407.5" fill="none" stroke="#444" stroke-width="1.4"/>
 <path d="M396 123.7A6 6 0 0 1 402 117.7" fill="none" stroke="#444" stroke-width="1"/>
 <rect x="202.5" y="168.5" width="10.8" height="10.8" rx="2" fill="#fff" stroke="#c4c4c4" stroke-width="1"/>
 <rect x="202" y="195" width="12" height="11.8" rx="2" fill="#1d58b8"/>
 <path d="M204.5 200.5L207.5 204L212.5 196.5" fill="none" stroke="#fff" stroke-width="1.8"/>
 <circle cx="409" cy="208.5" r="6" fill="#aaa"/>
 <text x="409" y="212.5" font-family="Liberation Sans" font-weight="bold" font-size="10" fill="#fff" text-anchor="middle">?</text>
</svg>
<div class="t" style="left:204.5px;top:85.5px;font-size:12.8px;font-weight:bold;color:#333">Ruler</div>
<div class="t" style="left:207px;top:117.5px;font-size:10px;color:#666">Sketch plane</div>
<div class="t" style="left:208.5px;top:135.5px;font-size:13px;color:#333">Top plane</div>
<div class="t" style="left:218.5px;top:168px;font-size:13.2px;color:#707070">Show constraints</div>
<div class="t" style="left:218.5px;top:195px;font-size:13px;color:#707070">Show overdefined</div>
<!-- bottom bar -->
<div class="a" style="left:0;top:913px;width:1909px;height:31px;background:#d3d3d3"></div>
<div class="a" style="left:69px;top:914.5px;width:199.5px;height:28px;background:#fff;border-radius:3px;border-bottom:2.2px solid #1d58b8"></div>
<div class="a" style="left:271px;top:914.5px;width:199.5px;height:27px;background:#e9e9e9;border-radius:3px"></div>
<svg style="left:0;top:900" width="480" height="44">
 <g fill="none" stroke="#666" stroke-width="1.4">
  <circle cx="7.5" cy="27" r="3.8"/><path d="M10.3 29.8L13 32.5"/><path d="M2 21.3H18M12.5 26H18M14.5 29.5H18"/>
 </g>
 <path d="M39 27.5H54.5M46.7 19.8V35.2" stroke="#555" stroke-width="2.2"/>
 <g fill="#fff" stroke="#333" stroke-width="1">
  <path d="M81 25L83 23.5H86V34.5H81Z"/><path d="M88 21L90 19H98V34.5H88Z"/>
 </g>
 <path d="M83 23.5L84.5 25V34.5M90 19L91.5 21V34.5M86 25H81M98 21H88" fill="none" stroke="#333" stroke-width=".8"/>
 <path d="M282 20.5L285 18H299.5V32L296.5 34.5H282Z" fill="#fff" stroke="#333" stroke-width="1.2"/>
 <path d="M284 23.5L286.5 21H296.5V31.5H284Z" fill="#888" stroke="#333" stroke-width="1"/>
 <path d="M282 20.5L285 21.5H299.5" fill="none" stroke="#333" stroke-width=".8"/>
</svg>
<div class="t" style="left:102.7px;top:921px;font-size:13.5px;color:#333">Part Studio 1</div>
<div class="t" style="left:304.6px;top:921px;font-size:13.6px;color:#666">Assembly 1</div>
</body></html>
